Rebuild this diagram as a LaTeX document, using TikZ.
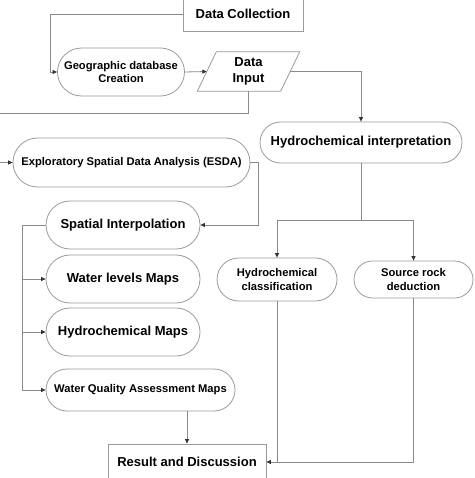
\documentclass[tikz,border=0pt]{standalone}
\usepackage{fontspec}
\setmainfont{Liberation Sans}
\usetikzlibrary{shapes.misc,arrows.meta,calc}
\definecolor{ln}{HTML}{8A8A8A}
\definecolor{bd}{HTML}{9A9A9A}
\tikzset{
  big/.style={font=\bfseries\fontsize{13}{16}\selectfont},
  small/.style={font=\bfseries\fontsize{11.2}{13.5}\selectfont},
  pill/.style={rounded rectangle, draw=bd, line width=0.8pt, inner sep=0pt, align=center},
  box/.style={rectangle, draw=bd, line width=0.8pt, inner sep=0pt, align=center},
  conn/.style={draw=ln, line width=0.8pt},
  arr/.style={conn, -{Triangle[length=4.5pt,width=4pt,color=black!80]}}
}
\begin{document}
\begin{tikzpicture}[x=1pt,y=-1pt]
\useasboundingbox (0,0) rectangle (474,478);
% nodes
\node[box,big,minimum width=120pt,minimum height=34pt] (dc) at (243,14) {Data Collection};
\node[pill,small,minimum width=127pt,minimum height=48pt] (geo) at (121,72) {Geographic database\\Creation};
\node[inner sep=0pt,big,align=center,minimum width=83pt,minimum height=39pt] (din) at (248.5,71.5) {Data\\Input};
\draw[draw=bd,line width=0.8pt] ($(din.south west)+(-9.5,0)$) -- ($(din.north west)+(9.5,0)$) -- ($(din.north east)+(9.5,0)$) -- ($(din.south east)+(-9.5,0)$) -- cycle;
\node[pill,big,minimum width=202pt,minimum height=41pt] (hi) at (361,142.5) {Hydrochemical interpretation};
\node[pill,small,minimum width=237pt,minimum height=49pt] (esda) at (131.5,162.5) {Exploratory Spatial Data Analysis (ESDA)};
\node[pill,big,minimum width=154pt,minimum height=48pt] (si) at (123,225) {Spatial Interpolation};
\node[pill,big,minimum width=154pt,minimum height=48pt] (wl) at (123,279) {Water levels Maps};
\node[pill,big,minimum width=154pt,minimum height=48pt] (hm) at (123,332) {Hydrochemical Maps};
\node[pill,small,minimum width=189pt,minimum height=42pt] (wqa) at (140.5,390) {Water Quality Assessment Maps};
\node[pill,small,minimum width=120pt,minimum height=43pt] (hc) at (277,279.5) {Hydrochemical\\classification};
\node[pill,small,minimum width=119pt,minimum height=37pt] (srd) at (413.5,279.5) {Source rock\\deduction};
\node[box,big,minimum width=158pt,minimum height=36pt] (rd) at (187,462) {Result and Discussion};
% coordinates
\coordinate (c1) at (50,14);
\coordinate (c2) at (248.5,113);
\coordinate (c3) at (-5,113);
\coordinate (c4) at (-5,162.5);
\coordinate (c5) at (258,162.5);
\coordinate (c6) at (22,225);
\coordinate (split) at (361,220);
% connectors
\draw[arr] (dc.west) -- (c1) |- (geo.west);
\draw[arr] (geo.east) -- (din.west);
\draw[conn] (din.south) -- (c2) -- (c3);
\draw[arr] (din.east) -| (hi.north);
\draw[arr] (c4) -- (esda.west);
\draw[arr] (esda.east) -- (c5) |- (si.east);
\draw[conn] (si.west) -- (c6);
\draw[arr] (c6) |- (wl.west);
\draw[arr] (c6) |- (hm.west);
\draw[arr] (c6) |- (wqa.west);
\draw[arr] (wqa.south -| rd.north) -- (rd.north);
\draw[conn] (hi.south) -- (split);
\draw[arr] (split) -| (hc.north);
\draw[arr] (split) -| (srd.north);
\draw[conn] (hc.south) -- (hc.south |- rd.east);
\draw[arr] (srd.south) |- (rd.east);
\end{tikzpicture}
\end{document}
